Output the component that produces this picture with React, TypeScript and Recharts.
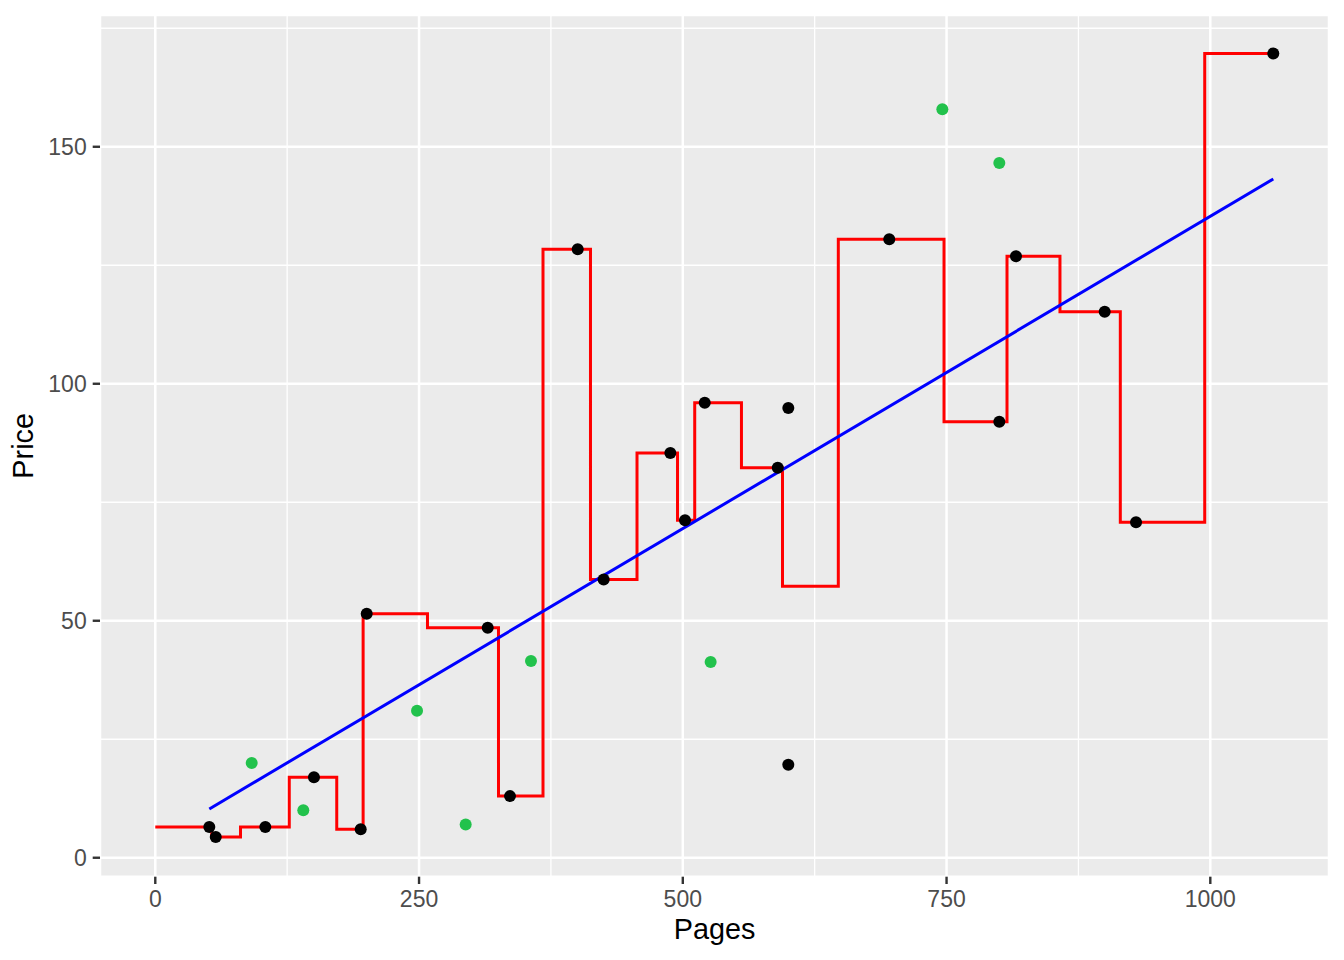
import {
  ComposedChart,
  Line,
  Scatter,
  XAxis,
  YAxis,
  CartesianGrid,
  ReferenceLine,
} from 'recharts'

// training books (black points)
const trainPages = [
  51.2, 57.3, 104.3, 150.4, 194.7, 200.4, 315.1, 336.2, 400.4, 425.0, 488.2,
  502.1, 520.8, 590.0, 600.0, 600.0, 695.7, 800.0, 815.8, 899.9, 929.6, 1059.7,
]
const trainPrice = [
  6.5, 4.4, 6.5, 17.0, 6.0, 51.5, 48.5, 13.0, 128.4, 58.7, 85.4, 71.2, 96.0,
  82.3, 94.9, 19.6, 130.5, 92.0, 126.9, 115.2, 70.8, 169.7,
]

// test books (green points)
const testPages = [91.4, 140.3, 248.1, 294.2, 356.1, 526.4, 746.0, 800.0]
const testPrice = [20.0, 10.0, 31.0, 7.0, 41.5, 41.3, 157.9, 146.6]

// nearest-neighbour prediction (red steps): level starts at each break
const stepPages = [
  0, 53.5, 80.8, 127.0, 172.0, 197.0, 258.0, 325.3, 367.5, 412.5, 456.6, 495.0,
  511.3, 555.6, 594.5, 647.4, 747.6, 807.3, 857.5, 914.7, 994.7, 1059.7,
]
const stepPrice = [
  6.5, 4.4, 6.5, 17.0, 6.0, 51.5, 48.5, 13.0, 128.4, 58.7, 85.4, 71.2, 96.0,
  82.3, 57.3, 130.5, 92.0, 126.9, 115.2, 70.8, 169.7, 169.7,
]

// linear fit (blue)
const fitPages = [51.2, 1059.7]
const fitPrice = [10.3, 143.2]

const xTicks = [0, 250, 500, 750, 1000]
const yTicks = [0, 50, 100, 150]
const xMinor = [125, 375, 625, 875]
const yMinor = [25, 75, 125, 175]

const zip = (xs: number[], ys: number[]) => xs.map((x, i) => ({ x, y: ys[i] }))

const trainData = zip(trainPages, trainPrice)
const testData = zip(testPages, testPrice)
const stepData = zip(stepPages, stepPrice)
const fitData = zip(fitPages, fitPrice)

const FONT = '"Liberation Sans", Arial, sans-serif'
const PANEL = '#EBEBEB'
const TICK_TEXT = '#4D4D4D'

function XTick({ x, y, payload }: any) {
  return (
    <text x={x} y={y} dy={16.5} textAnchor="middle" fill={TICK_TEXT} fontSize={23} fontFamily={FONT}>
      {payload.value}
    </text>
  )
}

function YTick({ x, y, payload }: any) {
  return (
    <text x={x} y={y} dy={8.3} textAnchor="end" fill={TICK_TEXT} fontSize={23} fontFamily={FONT}>
      {payload.value}
    </text>
  )
}

function XTitle({ viewBox }: any) {
  const vb = viewBox ?? { x: 100, y: 876.7, width: 1229 }
  return (
    <text x={vb.x + vb.width / 2} y={vb.y + 62.6} textAnchor="middle" fill="#000" fontSize={28.8} fontFamily={FONT}>
      Pages
    </text>
  )
}

function YTitle({ viewBox }: any) {
  const vb = viewBox ?? { y: 15, height: 861.7 }
  const cy = vb.y + vb.height / 2
  return (
    <text
      x={33.5}
      y={cy}
      transform={`rotate(-90, 33.5, ${cy})`}
      textAnchor="middle"
      fill="#000"
      fontSize={28.8}
      fontFamily={FONT}
    >
      Price
    </text>
  )
}

const dot = (fill: string) => (props: any) =>
  <circle cx={props.cx} cy={props.cy} r={6} fill={fill} />

export default function App() {
  return (
    <div style={{ position: 'absolute', left: 0, top: 0, width: 1344, height: 960, background: '#fff' }}>
      <ComposedChart
        width={1344}
        height={960}
        margin={{ top: 15, right: 15, bottom: 0, left: 0 }}
      >
        <CartesianGrid fill={PANEL} stroke="#fff" strokeWidth={2.5} />
        <XAxis
          dataKey="x"
          type="number"
          domain={[-52.4, 1112.5]}
          ticks={xTicks}
          interval={0}
          allowDataOverflow
          height={83.3}
          axisLine={false}
          tickLine={{ stroke: '#333333', strokeWidth: 2.4 }}
          tickSize={7.3}
          tickMargin={6}
          tick={<XTick />}
          label={(p: any) => <XTitle {...p} />}
        />
        <YAxis
          type="number"
          domain={[-4.0, 177.8]}
          ticks={yTicks}
          interval={0}
          allowDataOverflow
          width={100}
          axisLine={false}
          tickLine={{ stroke: '#333333', strokeWidth: 2.4 }}
          tickSize={7.3}
          tickMargin={6}
          tick={<YTick />}
          label={(p: any) => <YTitle {...p} />}
        />
        {xMinor.map((v) => (
          <ReferenceLine key={`mx${v}`} x={v} stroke="#fff" strokeWidth={1.3} />
        ))}
        {yMinor.map((v) => (
          <ReferenceLine key={`my${v}`} y={v} stroke="#fff" strokeWidth={1.3} />
        ))}
        <Line
          data={stepData}
          dataKey="y"
          type="stepAfter"
          stroke="#FF0000"
          strokeWidth={3}
          dot={false}
          activeDot={false}
          isAnimationActive={false}
        />
        <Scatter data={trainData} dataKey="y" shape={dot('#000000')} isAnimationActive={false} />
        <Line
          data={fitData}
          dataKey="y"
          type="linear"
          stroke="#0000FF"
          strokeWidth={3}
          dot={false}
          activeDot={false}
          isAnimationActive={false}
        />
        <Scatter data={testData} dataKey="y" shape={dot('#22C24C')} isAnimationActive={false} />
      </ComposedChart>
    </div>
  )
}
